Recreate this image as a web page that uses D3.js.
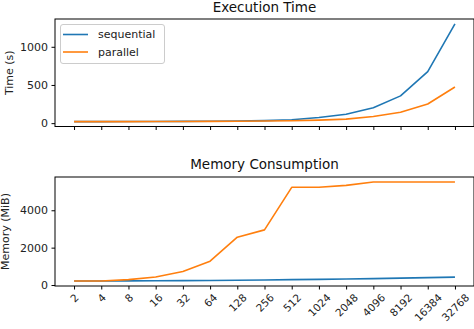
<!DOCTYPE html>
<html><head><meta charset="utf-8">
<script src="https://cdn.jsdelivr.net/npm/d3@7/dist/d3.min.js"></script>
<style>body{margin:0;background:#fff}svg{display:block;font-family:"DejaVu Sans",sans-serif}</style>
</head><body><svg id="c" width="474" height="329"></svg>
<script>
const categories = ["2","4","8","16","32","64","128","256","512","1024","2048","4096","8192","16384","32768"];
const timeSequential = [20,20,21,22,23,25,28,33,45,73,116,202,357,675,1300];
const timeParallel   = [20,20,20,21,22,23,25,28,32,39,52,86,142,250,473];
const memSequential  = [213,215,222,230,238,245,255,270,290,305,320,345,370,395,425];
const memParallel    = [213,215,288,427,720,1275,2560,2950,5228,5228,5330,5515,5515,5515,5515];
const timeTicks = [0,500,1000];
const memTicks = [0,2000,4000];
const seriesNames = ["sequential","parallel"];
const colors = ["#1f77b4","#ff7f0e"];

const svg = d3.select("#c");
const left = 55, right = 474;
const x = d3.scalePoint().domain(categories).range([left, right]).padding(0.7);

function panel(top, bottom, s1, s2, ticks, title, ylabel, showLabels, titleY, ylabelX) {
  const all = s1.concat(s2);
  const mn = d3.min(all), mx = d3.max(all), m = (mx - mn) * 0.05;
  const y = d3.scaleLinear().domain([mn - m, mx + m]).range([bottom, top]);
  const g = svg.append("g");
  [s1, s2].forEach((s, i) => {
    g.append("path").datum(s)
      .attr("fill", "none").attr("stroke", colors[i]).attr("stroke-width", 1.6)
      .attr("stroke-linejoin", "round")
      .attr("d", d3.line().x((d, j) => x(categories[j])).y(d => y(d)));
  });
  g.append("rect").attr("x", left).attr("y", top).attr("width", right - left).attr("height", bottom - top)
    .attr("fill", "none").attr("stroke", "#000").attr("stroke-width", 1);
  const ya = g.append("g").attr("transform", `translate(${left},0)`)
    .call(d3.axisLeft(y).tickValues(ticks).tickFormat(d3.format("d")).tickSize(3.5).tickPadding(3.5));
  ya.select(".domain").remove();
  ya.selectAll("text").attr("font-size", 11).attr("font-family", "DejaVu Sans").attr("fill", "#222");
  const xa = g.append("g").attr("transform", `translate(0,${bottom})`)
    .call(d3.axisBottom(x).tickSize(3.5).tickFormat(showLabels ? (d => d) : ""));
  xa.select(".domain").remove();
  if (showLabels) {
    xa.selectAll("text").each(function() {
      const t = d3.select(this);
      t.attr("font-size", 10.5).attr("font-family", "DejaVu Sans").attr("fill", "#222");
      const w = this.getComputedTextLength();
      const h = 10.5;
      const half = (w + h) * Math.SQRT1_2 / 2;
      t.attr("y", null).attr("dy", "0.35em").attr("text-anchor", "middle")
        .attr("transform", `translate(0,${6 + half}) rotate(-45)`);
    });
  }
  svg.append("text").attr("x", (left + right) / 2).attr("y", titleY)
    .attr("text-anchor", "middle").attr("font-size", 13.5).attr("fill", "#111").text(title);
  svg.append("text").attr("transform", `translate(${ylabelX},${(top + bottom) / 2}) rotate(-90)`)
    .attr("text-anchor", "middle").attr("font-size", 11).attr("fill", "#222").text(ylabel);
  return y;
}

panel(19, 126.5, timeSequential, timeParallel, timeTicks, "Execution Time", "Time (s)", false, 11.5, 13);
panel(177, 286, memSequential, memParallel, memTicks, "Memory Consumption", "Memory (MiB)", true, 169, 9);

const lg = svg.append("g");
lg.append("rect").attr("x", 60.5).attr("y", 24.5).attr("width", 104).attr("height", 39)
  .attr("rx", 2.5).attr("fill", "#fff").attr("fill-opacity", 0.8).attr("stroke", "#ccc");
seriesNames.forEach((n, i) => {
  const yy = 34.5 + i * 17.5;
  lg.append("line").attr("x1", 63).attr("x2", 88).attr("y1", yy).attr("y2", yy)
    .attr("stroke", colors[i]).attr("stroke-width", 1.6);
  lg.append("text").attr("x", 98).attr("y", yy).attr("dy", "0.35em")
    .attr("font-size", 11).attr("fill", "#222").text(n);
});
</script></body></html>
